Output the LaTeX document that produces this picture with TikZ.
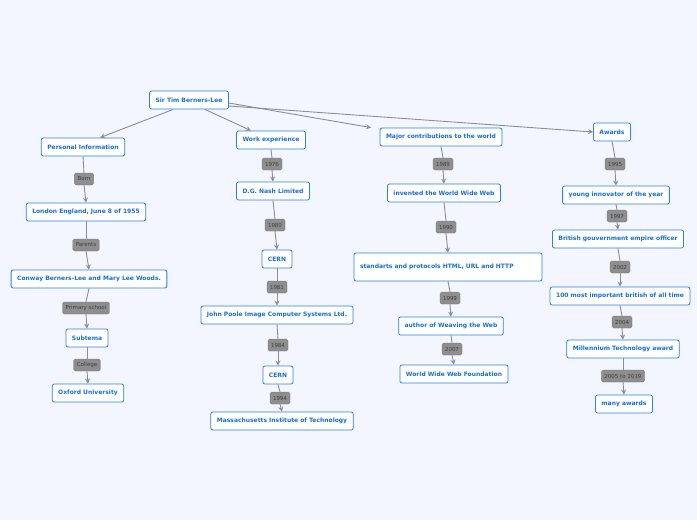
\documentclass[tikz,border=0pt]{standalone}
\usepackage{fontspec}
\setmainfont{DejaVu Sans}
\usetikzlibrary{arrows.meta}
\definecolor{bg}{HTML}{F3F6FE}
\definecolor{nb}{HTML}{2F80E0}
\definecolor{nt}{HTML}{1A6FD0}
\definecolor{lg}{HTML}{8E8E8E}
\definecolor{ln}{HTML}{8A8E99}
\begin{document}
\begin{tikzpicture}[x=1pt,y=-1pt,
 topic/.style={draw=nb,fill=white,rounded corners=2pt,line width=0.8pt,text=nt,font=\bfseries\fontsize{6}{7}\selectfont,minimum height=18pt,inner xsep=6pt},
 lab/.style={fill=lg,draw=lg!80!black,line width=0.3pt,rounded corners=1.5pt,text=black!75,font=\fontsize{5.5}{6}\selectfont,minimum height=12pt,inner xsep=3pt},
 con/.style={draw=ln,line width=0.9pt},
 arr/.style={con,-{Stealth[length=5pt,width=5pt]}}]
\fill[bg] (0,0) rectangle (697,520);
\node[topic] (root) at (189,100) {Sir Tim Berners-Lee};
% personal
\node[topic] (p) at (83,147) {Personal Information};
\node[lab] (pl1) at (84,179) {Born};
\node[topic] (p1) at (86,212) {London England, June 8 of 1955};
\node[lab] (pl2) at (86,245) {Parents};
\node[topic] (p2) at (89,279) {Conway Berners-Lee and Mary Lee Woods.};
\node[lab] (pl3) at (86,308) {Primary school};
\node[topic] (p3) at (87,338) {Subtema};
\node[lab] (pl4) at (87,365) {College};
\node[topic] (p4) at (88,393) {Oxford University};
% work
\node[topic] (w) at (271,140) {Work experience};
\node[lab] (wl1) at (272,164) {1976};
\node[topic] (w1) at (273,191) {D.G. Nash Limited};
\node[lab] (wl2) at (275,225) {1980};
\node[topic] (w2) at (277,259) {CERN};
\node[lab] (wl3) at (277,287) {1981};
\node[topic] (w3) at (277,315) {John Poole Image Computer Systems Ltd.};
\node[lab] (wl4) at (278,345) {1984};
\node[topic] (w4) at (278,375) {CERN};
\node[lab] (wl5) at (280,398) {1994};
\node[topic] (w5) at (282,421) {Massachusetts Institute of Technology};
% major
\node[topic] (m) at (441,137) {Major contributions to the world};
\node[lab] (ml1) at (443,164) {1989};
\node[topic] (m1) at (444,193) {invented the World Wide Web};
\node[lab] (ml2) at (446,227) {1990};
\node[topic,text width=176pt,align=left,minimum height=28pt] (m2) at (448,267) {standarts and protocols HTML, URL and HTTP};
\node[lab] (ml3) at (450,298) {1999};
\node[topic] (m3) at (451,326) {author of Weaving the Web};
\node[lab] (ml4) at (452,349) {2007};
\node[topic] (m4) at (454,374) {World Wide Web Foundation};
% awards
\node[topic] (a) at (612,132) {Awards};
\node[lab] (al1) at (615,164) {1995};
\node[topic] (a1) at (616,195) {young innovator of the year};
\node[lab] (al2) at (617,216) {1997};
\node[topic] (a2) at (618,239) {British gouvernment empire officer};
\node[lab] (al3) at (620,267) {2002};
\node[topic] (a3) at (620,296) {100 most important british of all time};
\node[lab] (al4) at (622,322) {2004};
\node[topic] (a4) at (623,349) {Millennium Technology award};
\node[lab] (al5) at (623,376) {2005 to 2019};
\node[topic] (a5) at (624,404) {many awards};
\draw[arr] ([xshift=24pt]root.south west) -- ([xshift=-25pt]p.north east);
\draw[arr] ([xshift=-24pt]root.south east) -- ([xshift=-20pt]w.north);
\draw[arr] ([yshift=-3pt]root.east) -- ([xshift=-70pt]m.north);
\draw[arr] ([yshift=-6pt]root.east) -- (a.west);
\foreach \pa/\l/\c in {p/pl1/p1,p1/pl2/p2,p2/pl3/p3,p3/pl4/p4,
  w/wl1/w1,w1/wl2/w2,w2/wl3/w3,w3/wl4/w4,w4/wl5/w5,
  m/ml1/m1,m1/ml2/m2,m2/ml3/m3,m3/ml4/m4,
  a/al1/a1,a1/al2/a2,a2/al3/a3,a3/al4/a4,a4/al5/a5}{
  \draw[con] (\pa.south) -- (\l.north);
  \draw[arr] (\l.south) -- (\c.north);
}
\end{tikzpicture}
\end{document}
